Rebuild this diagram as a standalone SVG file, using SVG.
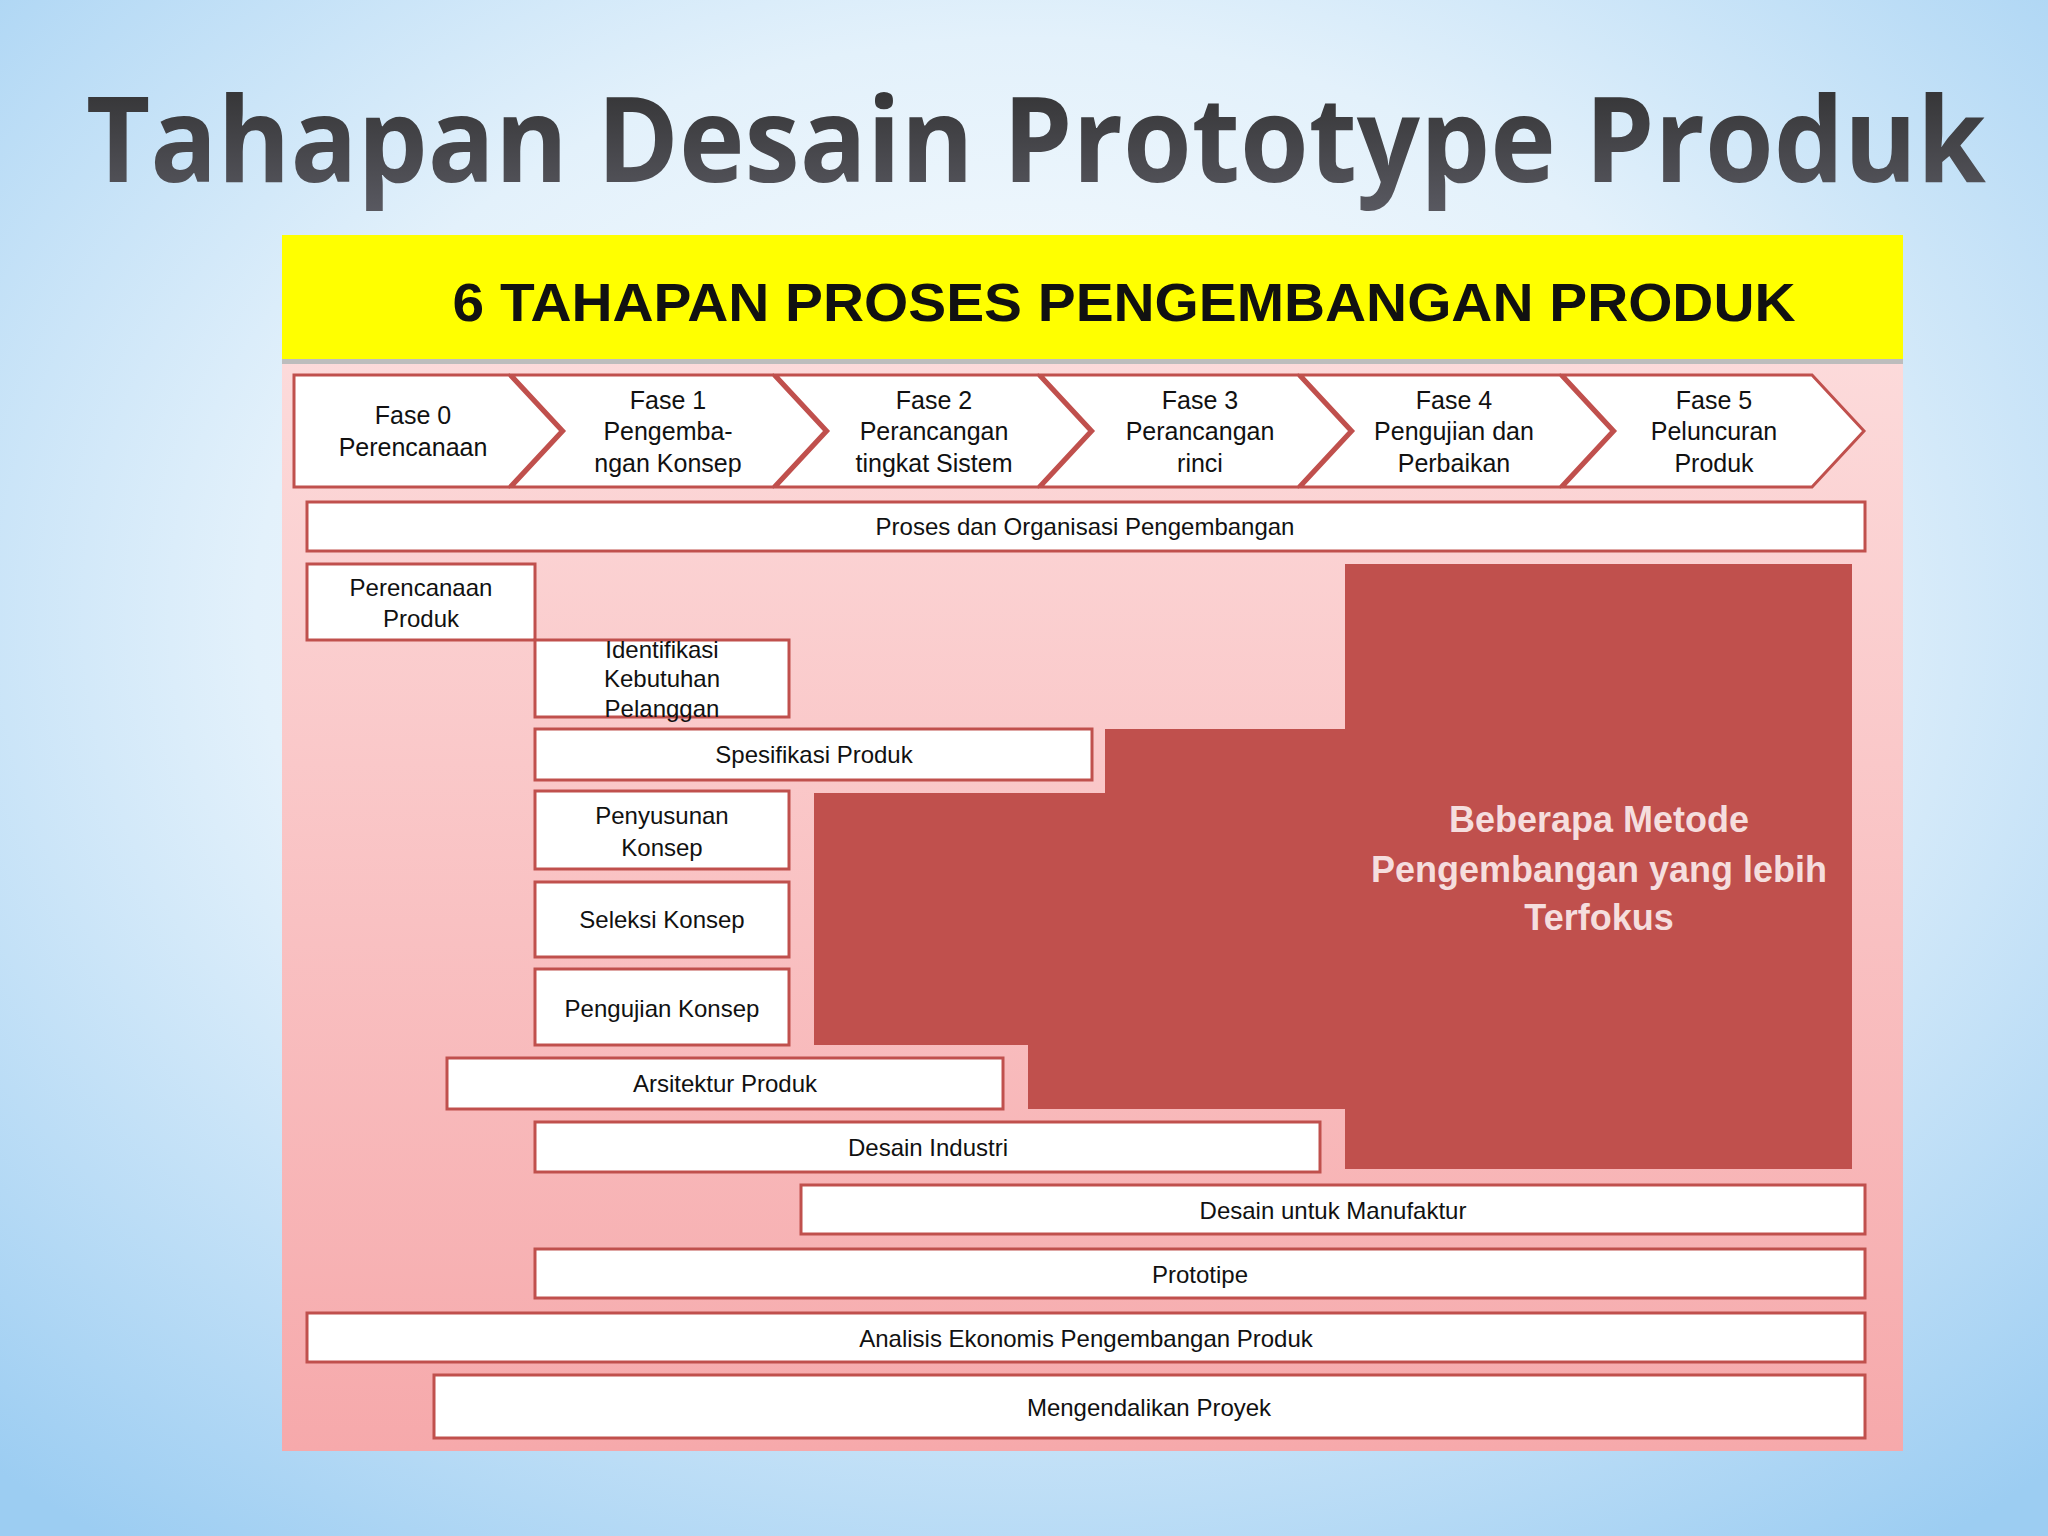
<svg xmlns="http://www.w3.org/2000/svg" width="2048" height="1536" viewBox="0 0 2048 1536">
<defs>
<radialGradient id="bg" cx="50%" cy="40%" r="75%">
<stop offset="0" stop-color="#ffffff"/><stop offset="0.5" stop-color="#e3f1fb"/><stop offset="1" stop-color="#9ccdf2"/>
</radialGradient>
<linearGradient id="pink" x1="0" y1="0" x2="0" y2="1">
<stop offset="0" stop-color="#fde0e0"/><stop offset="1" stop-color="#f6a9ab"/>
</linearGradient>
<linearGradient id="ttl" x1="0" y1="0" x2="0" y2="1">
<stop offset="0" stop-color="#2c2c2c"/><stop offset="1" stop-color="#5a5a62"/>
</linearGradient>
</defs>
<style>
.b{fill:#fff;stroke:#c0504d;stroke-width:3}
.t{font-family:"Liberation Sans",Arial,sans-serif;font-size:24px;fill:#111;text-anchor:middle}
.c{font-family:"Liberation Sans",Arial,sans-serif;font-size:25px;fill:#111;text-anchor:middle}
.w{font-family:"Liberation Sans",Arial,sans-serif;font-size:36px;font-weight:bold;fill:#f5dede;text-anchor:middle}
</style>
<rect width="2048" height="1536" fill="url(#bg)"/>
<text x="1036" y="182" font-family="Open Sans, sans-serif" font-weight="bold" font-size="118" fill="url(#ttl)" text-anchor="middle" textLength="1900" lengthAdjust="spacingAndGlyphs">Tahapan Desain Prototype Produk</text>
<rect x="282" y="235" width="1621" height="1216" fill="url(#pink)"/>
<rect x="282" y="235" width="1621" height="124" fill="#ffff00"/>
<rect x="282" y="359" width="1621" height="5" fill="#bdbdbd"/>
<text x="1124" y="321" font-family="Liberation Sans, Arial, sans-serif" font-weight="bold" font-size="54" fill="#111" text-anchor="middle" textLength="1343" lengthAdjust="spacingAndGlyphs">6 TAHAPAN PROSES PENGEMBANGAN PRODUK</text>
<g id="dark"><polygon points="814,793 1105,793 1105,729 1345,729 1345,564 1852,564 1852,1169 1345,1169 1345,1109 1028,1109 1028,1045 814,1045" fill="#c0504d"/>
<text class="w" x="1599" y="832">Beberapa Metode</text>
<text class="w" x="1599" y="882">Pengembangan yang lebih</text>
<text class="w" x="1599" y="930">Terfokus</text></g>
<g id="phases">
<g id="f0"><polygon class="b" points="294,375 509,375 561,431 509,487 294,487"/><text class="c" x="413" y="424">Fase 0</text><text class="c" x="413" y="456">Perencanaan</text></g>
<g id="f1"><polygon class="b" points="512,375 773,375 825,431 773,487 512,487 564,431"/><text class="c" x="668" y="409">Fase 1</text><text class="c" x="668" y="440">Pengemba-</text><text class="c" x="668" y="472">ngan Konsep</text></g>
<g id="f2"><polygon class="b" points="776,375 1038,375 1090,431 1038,487 776,487 828,431"/><text class="c" x="934" y="409">Fase 2</text><text class="c" x="934" y="440">Perancangan</text><text class="c" x="934" y="472">tingkat Sistem</text></g>
<g id="f3"><polygon class="b" points="1041,375 1298,375 1350,431 1298,487 1041,487 1093,431"/><text class="c" x="1200" y="409">Fase 3</text><text class="c" x="1200" y="440">Perancangan</text><text class="c" x="1200" y="472">rinci</text></g>
<g id="f4"><polygon class="b" points="1301,375 1560,375 1612,431 1560,487 1301,487 1353,431"/><text class="c" x="1454" y="409">Fase 4</text><text class="c" x="1454" y="440">Pengujian dan</text><text class="c" x="1454" y="472">Perbaikan</text></g>
<g id="f5"><polygon class="b" points="1563,375 1812,375 1864,431 1812,487 1563,487 1615,431"/><text class="c" x="1714" y="409">Fase 5</text><text class="c" x="1714" y="440">Peluncuran</text><text class="c" x="1714" y="472">Produk</text></g>
</g>
<g id="bars">
<g id="n1"><rect class="b" x="307" y="502" width="1558" height="49"/><text class="t" x="1085" y="535">Proses dan Organisasi Pengembangan</text></g>
<g id="n2"><rect class="b" x="307" y="564" width="228" height="76"/><text class="t" x="421" y="596">Perencanaan</text><text class="t" x="421" y="627">Produk</text></g>
<g id="n3"><rect class="b" x="535" y="640" width="254" height="77"/><text class="t" x="662" y="658">Identifikasi</text><text class="t" x="662" y="687">Kebutuhan</text><text class="t" x="662" y="717">Pelanggan</text></g>
<g id="n4"><rect class="b" x="535" y="729" width="557" height="51"/><text class="t" x="814" y="763">Spesifikasi Produk</text></g>
<g id="n5"><rect class="b" x="535" y="791" width="254" height="78"/><text class="t" x="662" y="824">Penyusunan</text><text class="t" x="662" y="856">Konsep</text></g>
<g id="n6"><rect class="b" x="535" y="882" width="254" height="75"/><text class="t" x="662" y="928">Seleksi Konsep</text></g>
<g id="n7"><rect class="b" x="535" y="969" width="254" height="76"/><text class="t" x="662" y="1017">Pengujian Konsep</text></g>
<g id="n8"><rect class="b" x="447" y="1058" width="556" height="51"/><text class="t" x="725" y="1092">Arsitektur Produk</text></g>
<g id="n9"><rect class="b" x="535" y="1122" width="785" height="50"/><text class="t" x="928" y="1156">Desain Industri</text></g>
<g id="n10"><rect class="b" x="801" y="1185" width="1064" height="49"/><text class="t" x="1333" y="1219">Desain untuk Manufaktur</text></g>
<g id="n11"><rect class="b" x="535" y="1249" width="1330" height="49"/><text class="t" x="1200" y="1283">Prototipe</text></g>
<g id="n12"><rect class="b" x="307" y="1313" width="1558" height="49"/><text class="t" x="1086" y="1347">Analisis Ekonomis Pengembangan Produk</text></g>
<g id="n13"><rect class="b" x="434" y="1375" width="1431" height="63"/><text class="t" x="1149" y="1416">Mengendalikan Proyek</text></g>
</g>
<g id="connectors"/>
</svg>
